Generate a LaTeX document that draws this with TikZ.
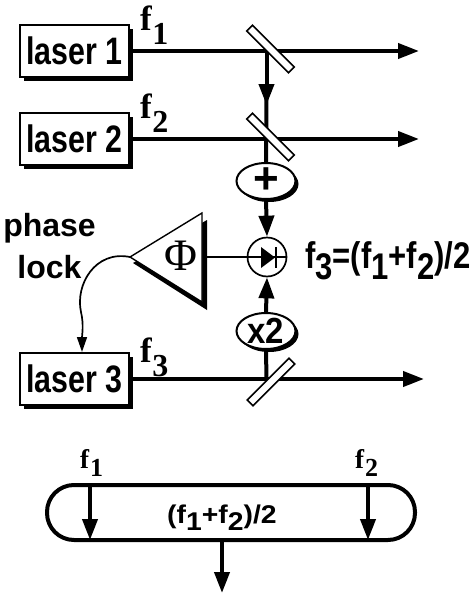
\documentclass[tikz,border=0pt]{standalone}
\usepackage{fontspec}
\setmainfont{Liberation Serif}
\setsansfont{Liberation Sans}
\usetikzlibrary{arrows.meta,shadows,shapes.geometric}
\newcommand{\lasertext}[1]{\scalebox{.92}[1.16]{\fontsize{33}{33}\sffamily\bfseries #1}}
\newcommand{\fsub}[1]{\fontsize{35}{35}\selectfont\bfseries f\kern.5pt\raisebox{-14pt}{\fontsize{32}{32}\selectfont #1}}
\newcommand{\fbsub}[1]{\fontsize{27}{27}\selectfont\bfseries f\kern1pt\raisebox{-8pt}{\fontsize{26}{26}\selectfont #1}}
\newcommand{\ssub}[1]{\raisebox{-.3em}{#1}}
\tikzset{
  x=1pt,y=-1pt,
  laserbox/.style={draw,line width=1.6pt,fill=white,minimum width=109pt,minimum height=52pt,inner sep=0pt,
    general shadow={fill=black,shadow xshift=4pt,shadow yshift=-4pt}},
  mirror/.style={draw,line width=1.6pt,fill=white,minimum width=59pt,minimum height=8pt,inner sep=0pt},
  oval/.style={draw,ellipse,line width=2pt,fill=white,minimum width=59pt,minimum height=36pt,inner sep=0pt,
    general shadow={fill=black,shadow xshift=3pt,shadow yshift=-3pt}},
  beam/.style={line width=4pt},
  beamarrow/.style={line width=4pt,-{Triangle[length=21pt,width=15pt]}},
  thinline/.style={line width=1.7pt},
  flabel/.style={anchor=base west,inner sep=0pt},
}
\begin{document}
\begin{tikzpicture}
\useasboundingbox (0,0) rectangle (474,595);
% lasers
\node[laserbox] (l1) at (74.5,51) {\lasertext{laser 1}};
\node[laserbox] (l2) at (74.5,139) {\lasertext{laser 2}};
\node[laserbox] (l3) at (74.5,379) {\lasertext{laser 3}};
% free ends
\coordinate (e1) at (419,51);
\coordinate (e2) at (419,139);
\coordinate (e3) at (424,379);
\coordinate (m1) at (266.5,51);
\coordinate (m2) at (266.5,139);
\coordinate (m3) at (266.5,379);
\coordinate (t12) at (266.5,105);
\coordinate (t12b) at (266.5,96);
% detector position
\node[circle,draw,line width=1.7pt,minimum size=39pt,inner sep=0pt] (det) at (267,257) {};
\node[oval] (plus) at (266,181) {};
\node[oval] (x2) at (266,331) {};
% beams
\draw[beam] (l1.east) -- (m1);
\draw[beamarrow] (m1) -- (e1);
\draw[beam] (l2.east) -- (m2);
\draw[beamarrow] (m2) -- (e2);
\draw[beam] (l3.east) -- (m3);
\draw[beamarrow] (m3) -- (e3);
\draw[beamarrow] (m1) -- (t12);
\draw[beam] (t12b) -- (plus.north);
\draw[beam] (m3) -- (x2.south);
\draw[beamarrow] (plus.south) -- (det.north);
\draw[beamarrow] (x2.north) -- (det.south);
% mirrors
\node[mirror,rotate=-45] (mir1) at (270.5,49) {};
\node[mirror,rotate=-45] (mir2) at (270.5,137) {};
\node[mirror,rotate=45] (mir3) at (271,382) {};
% oval labels
\node[font=\sffamily\bfseries\fontsize{44}{44}\selectfont,inner sep=0pt] (pluslabel) at (266,181) {+};
\node[inner sep=0pt] (x2label) at (x2.center) {\scalebox{1}[1.1]{\fontsize{33}{33}\sffamily\bfseries x2}};
% amplifier
\coordinate (ampa) at (130,257);
\coordinate (ampb) at (202,213);
\coordinate (ampc) at (202,302);
\fill (133,263) -- (207,220) -- (207,310) -- cycle;
\draw[line width=1.4pt,fill=white,line join=miter] (ampa) -- (ampb) -- (ampc) -- cycle;
\node[inner sep=0pt,font=\fontsize{45}{45}\selectfont] (phi) at (180.5,256) {Φ};
\coordinate (ampout) at (207,257);
% diode
\draw[thinline] (ampout) -- (det.west);
\draw[thinline] (det.west) -- (det.east);
\coordinate (da) at (261,247);
\coordinate (db) at (261,268);
\coordinate (dc) at (275,257.5);
\fill (da) -- (dc) -- (db) -- cycle;
\draw[line width=2pt] (275.5,247) -- (275.5,268);
% phase lock curve
\coordinate (lt) at (82,352);
\draw[line width=1.7pt,-{Triangle[length=15pt,width=10pt]}] (ampa) .. controls (95,250) and (75,285) .. (81,312) .. controls (84,325) and (82,335) .. (lt);
% labels
\node[flabel] (f1) at (140,30) {\fsub{1}};
\node[flabel] (f2) at (140,118) {\fsub{2}};
\node[flabel] (f3) at (140,362) {\fsub{3}};
\node[anchor=base,inner sep=0pt,align=center,font=\sffamily\bfseries\fontsize{32}{32}\selectfont] (phase) at (49.5,236) {phase};
\node[anchor=base,inner sep=0pt,font=\sffamily\bfseries\fontsize{32}{32}\selectfont] (lock) at (49.5,278) {lock};
\node[anchor=base west,inner sep=0pt] (eq) at (305,268) {\scalebox{.97}[1.16]{\fontsize{32}{32}\sffamily\bfseries f\ssub{3}=(f\ssub{1}+f\ssub{2})/2}};
% bottom
\draw[line width=4pt,rounded corners=27pt,fill=white] (47,485) rectangle (415,540);
\coordinate (bt1) at (90,485);
\coordinate (bb1) at (90,540);
\coordinate (bt2) at (368,485);
\coordinate (bb2) at (368,540);
\coordinate (bc) at (222,540);
\coordinate (be) at (222,593);
\draw[beamarrow] (bt1) -- (bb1);
\draw[beamarrow] (bt2) -- (bb2);
\draw[beamarrow] (bc) -- (be);
\node[flabel] (bf1) at (80,468) {\fbsub{1}};
\node[flabel] (bf2) at (355,468) {\fbsub{2}};
\node[anchor=base west,inner sep=0pt] (bm) at (167,523) {\scalebox{1.05}[.95]{\fontsize{27}{27}\sffamily\bfseries (f\raisebox{-.3em}{1}+f\raisebox{-.3em}{2})/2}};
\end{tikzpicture}
\end{document}
